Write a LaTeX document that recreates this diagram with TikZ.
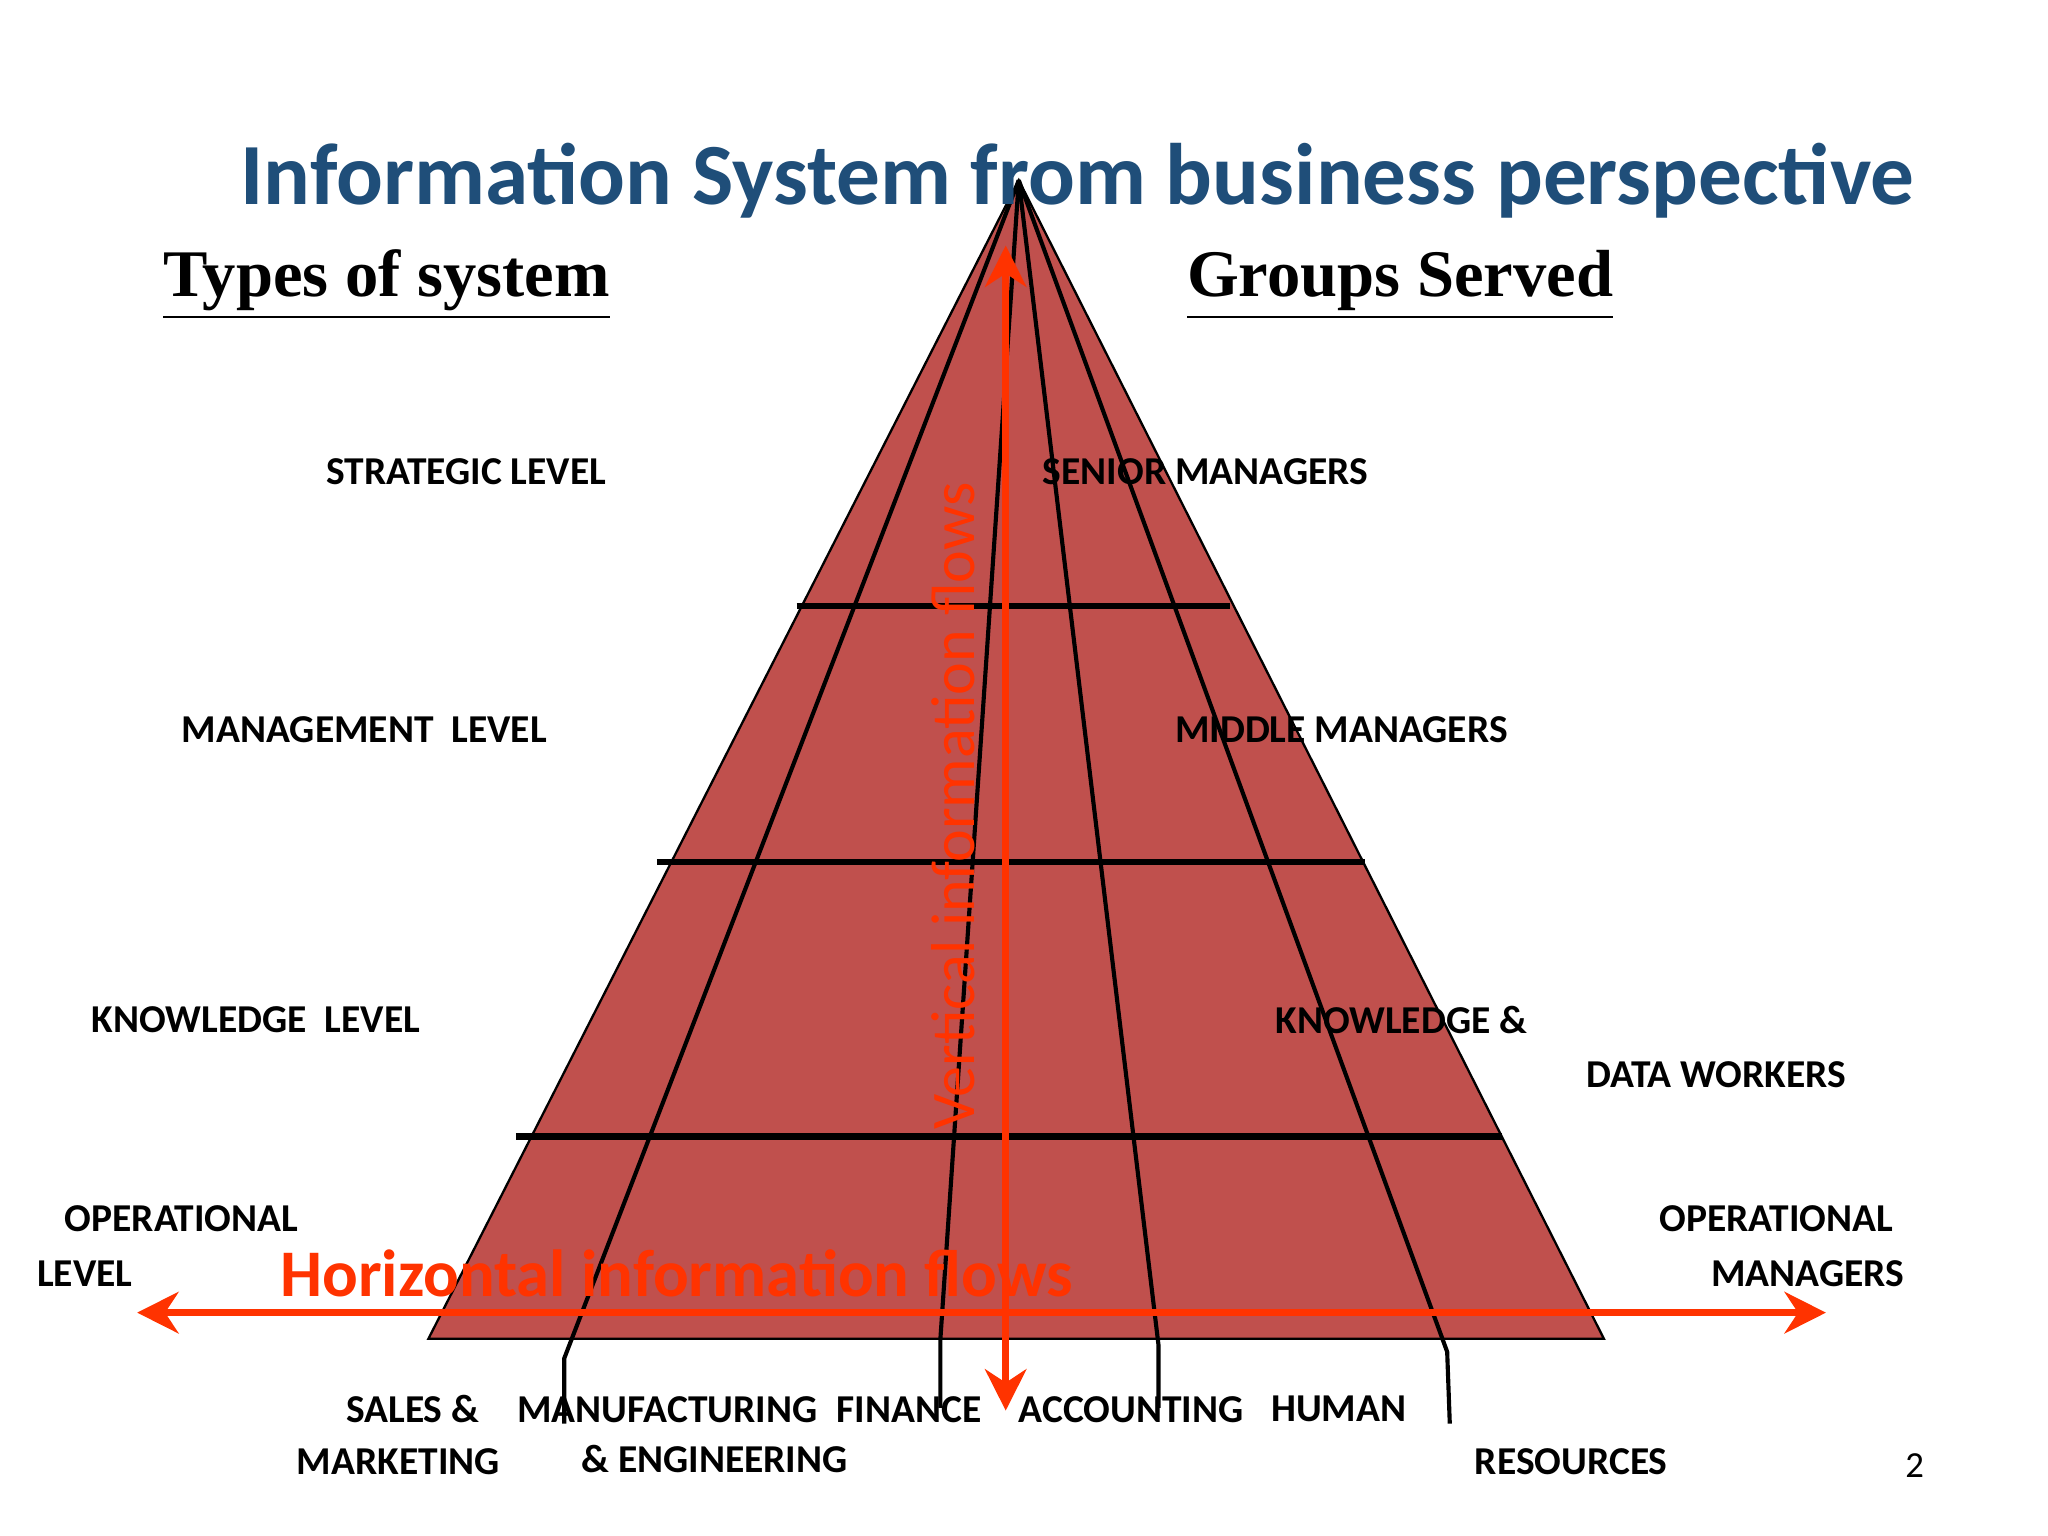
\documentclass[tikz,border=0pt]{standalone}
\usepackage{fontspec}
\setmainfont{Carlito}
\newfontfamily\serifb{Liberation Serif}
\usetikzlibrary{arrows.meta}
\definecolor{pyr}{RGB}{192,80,77}
\definecolor{ttl}{RGB}{31,78,121}
\definecolor{flow}{RGB}{255,51,0}
\tikzset{
  lvl/.style={font=\fontsize{8.6pt}{10pt}\selectfont\bfseries, inner sep=0pt},
  hdr/.style={font=\serifb\fontsize{14.5pt}{16pt}\selectfont\bfseries, inner sep=0pt},
  bar/.style={line width=1.5pt},
  div/.style={line width=0.9pt},
  flowarrow/.style={flow, line width=1.6pt, {Stealth[length=9pt,width=9pt]}-{Stealth[length=9pt,width=9pt]}}
}
\begin{document}
\begin{tikzpicture}[x=0.01cm,y=-0.01cm]
\useasboundingbox (0,0) rectangle (1568,1176);
\fill[white] (0,0) rectangle (1568,1176);
\coordinate (apex) at (780,138);
\coordinate (bl) at (328,1025);
\coordinate (br) at (1228,1025);
\filldraw[fill=pyr, draw=black, line width=0.5pt] (apex) -- (bl) -- (br) -- cycle;
\draw[bar] (610,464) -- (942,464);
\draw[bar] (503,660) -- (1045,660);
\draw[bar] (395,870) -- (1150,870);
\coordinate (d1) at (432,1040); \coordinate (d1e) at (432,1090);
\coordinate (d2) at (720,1025); \coordinate (d2e) at (720,1078);
\coordinate (d3) at (887,1030); \coordinate (d3e) at (887,1078);
\coordinate (d4) at (1108,1035); \coordinate (d4e) at (1110,1090);
\draw[div] (apex) -- (d1) -- (d1e);
\draw[div] (apex) -- (d2) -- (d2e);
\draw[div] (apex) -- (d3) -- (d3e);
\draw[div] (apex) -- (d4) -- (d4e);
\node[font=\fontsize{19pt}{22pt}\selectfont\bfseries, text=ttl, inner sep=0pt] (title) at (825,138) {Information System from business perspective};
\node[font=\fontsize{13.5pt}{15pt}\selectfont, text=flow, rotate=90, inner sep=0pt] (vlab) at (730,617) {Vertical information flows};
\coordinate (vt) at (770,188); \coordinate (vb) at (770,1080);
\draw[flowarrow] (vt) -- (vb);
\coordinate (hl) at (105,1005); \coordinate (hr) at (1398,1005);
\draw[flowarrow] (hl) -- (hr);
\node[font=\fontsize{14.5pt}{16pt}\selectfont\bfseries, text=flow, inner sep=0pt] (hlab) at (518,975) {Horizontal information flows};
\node[hdr] (types) at (296,218) {\underline{Types of system}};
\node[hdr] (groups) at (1072,218) {\underline{Groups Served}};
\node[lvl] (s1) at (357,361) {STRATEGIC LEVEL};
\node[lvl] (s2) at (279,559) {MANAGEMENT\ \ LEVEL};
\node[lvl] (s3) at (196,781) {KNOWLEDGE\ \ LEVEL};
\node[lvl] (s4) at (139,933) {OPERATIONAL};
\node[lvl] (s4b) at (65,975) {LEVEL};
\node[lvl] (g1) at (923,361) {SENIOR MANAGERS};
\node[lvl] (g2) at (1027,559) {MIDDLE MANAGERS};
\node[lvl] (g3) at (1073,781) {KNOWLEDGE \&};
\node[lvl] (g3b) at (1314,823) {DATA WORKERS};
\node[lvl] (g4) at (1360,933) {OPERATIONAL};
\node[lvl] (g4b) at (1384,975) {MANAGERS};
\node[lvl] (f1) at (316,1079) {SALES \&};
\node[lvl] (f1b) at (305,1119) {MARKETING};
\node[lvl] (f2) at (511,1079) {MANUFACTURING};
\node[lvl] (f2b) at (547,1117) {\& ENGINEERING};
\node[lvl] (f3) at (696,1079) {FINANCE};
\node[lvl] (f4) at (866,1079) {ACCOUNTING};
\node[lvl] (f5) at (1025,1079) {HUMAN};
\node[lvl] (f5b) at (1203,1119) {RESOURCES};
\node[font=\fontsize{8pt}{9pt}\selectfont, inner sep=0pt] (pg) at (1466,1122) {2};
\end{tikzpicture}
\end{document}
